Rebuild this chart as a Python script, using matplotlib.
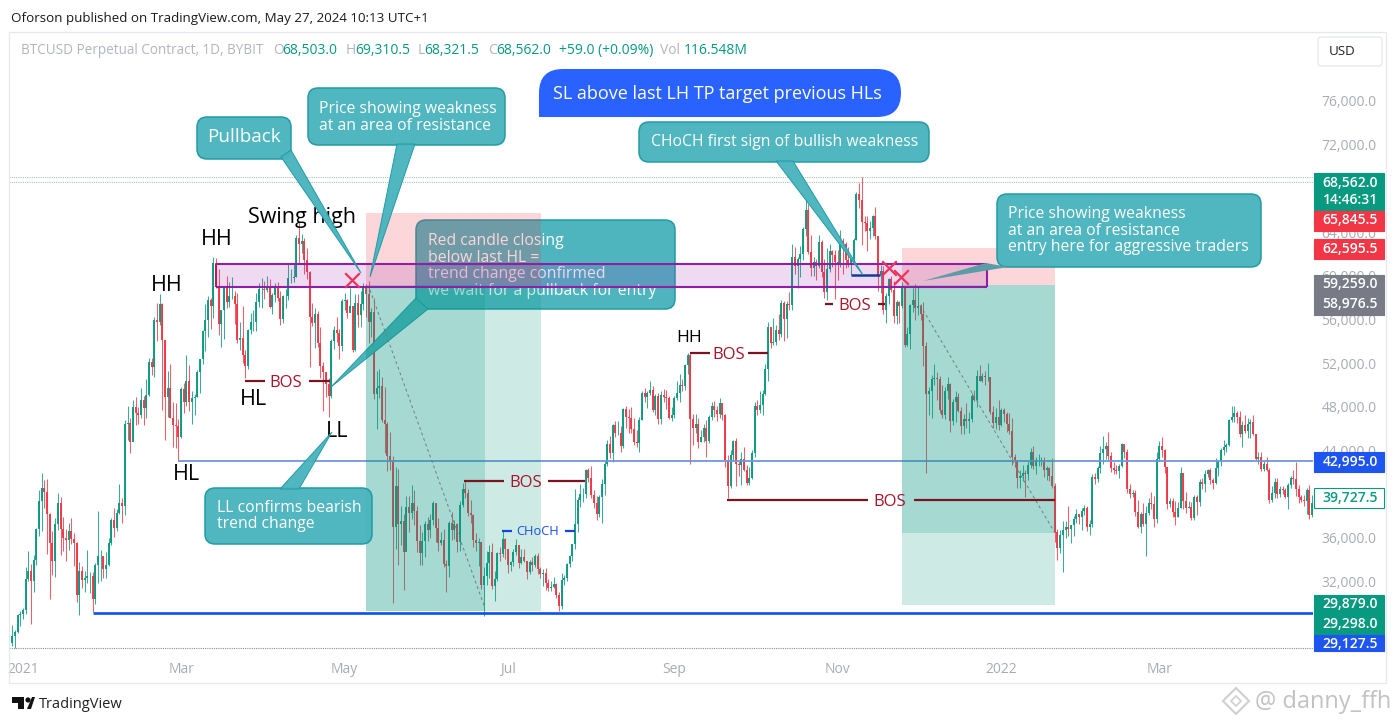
import datetime as dt
import numpy as np
import matplotlib
matplotlib.use("Agg")
import matplotlib.pyplot as plt
from matplotlib.patches import FancyBboxPatch, Polygon, Rectangle, Circle

plt.rcParams['font.family'] = ['Open Sans', 'DejaVu Sans']

# daily candles from 28 Dec 2020, prices in thousands of USD
closes = [27.0,27.4,28.9,29.0,
 29.4,32.2,33.0,32.0,34.0,36.8,39.4,40.6,40.2,38.2,35.5,33.9,37.3,39.2,36.8,36.0,35.8,36.6,35.9,35.5,30.8,33.0,32.1,32.3,32.5,32.5,30.4,33.5,34.3,34.3,33.1,
 33.5,35.5,37.6,36.9,38.3,39.2,38.9,46.4,46.5,44.8,48.0,47.4,47.2,48.6,47.9,49.1,52.1,51.6,55.9,55.8,57.4,54.1,48.9,49.7,47.0,46.3,46.2,45.2,
 49.6,48.4,50.4,48.4,48.8,48.9,51.2,52.4,54.9,55.9,57.8,57.2,61.2,59.0,55.6,56.9,58.9,57.6,58.1,58.1,57.4,54.1,54.3,52.7,51.7,55.0,55.8,55.8,57.6,58.8,58.8,
 58.7,58.9,57.1,58.2,59.1,58.0,56.0,58.1,58.1,59.8,59.8,59.9,63.5,62.9,63.2,61.4,60.3,56.2,55.7,56.5,53.8,51.7,51.2,50.1,49.0,54.0,55.0,54.8,53.6,57.7,
 57.8,56.6,57.2,53.2,57.5,56.4,57.4,58.9,58.3,55.8,56.7,49.2,49.7,49.9,46.8,46.4,43.5,42.9,37.0,40.7,37.3,37.5,34.7,38.8,38.3,39.2,38.5,35.7,34.6,35.7,37.3,
 36.7,37.6,39.2,36.9,35.5,35.8,33.6,33.4,37.4,36.7,37.3,35.6,39.0,40.5,40.1,38.3,38.1,35.8,35.5,35.6,31.7,32.5,33.7,34.7,31.6,32.2,34.6,34.5,35.9,35.0,
 33.5,33.8,34.7,35.3,33.7,34.2,33.9,32.9,33.8,33.5,34.3,33.1,32.7,32.8,31.9,31.4,31.5,31.8,30.8,29.8,32.1,32.3,33.6,34.3,35.4,37.3,39.5,40.0,40.0,42.2,41.5,
 39.9,39.2,38.2,39.7,40.9,42.8,44.6,43.8,46.3,45.6,45.6,44.4,47.8,47.1,47.0,46.0,44.8,44.7,46.8,49.3,48.9,49.3,49.5,47.7,49.0,46.9,49.1,48.9,48.8,47.0,47.2,
 48.8,49.3,50.0,49.9,51.8,52.7,46.9,46.1,46.4,44.8,45.2,46.1,44.9,47.1,48.1,47.7,47.3,48.3,47.2,43.0,40.7,43.6,44.9,42.8,42.7,43.2,42.2,41.0,41.5,43.8,
 48.1,47.7,48.2,49.2,51.5,55.3,53.8,53.9,55.0,54.7,57.5,56.0,57.4,57.3,61.7,60.9,61.5,62.0,64.3,66.0,62.2,60.7,61.3,60.9,63.1,60.3,58.5,60.6,62.3,61.9,61.3,
 61.0,63.2,62.9,61.4,61.0,61.5,63.3,67.5,66.9,64.9,64.8,64.1,64.4,65.5,63.6,60.1,60.4,56.9,58.1,59.7,58.7,56.3,57.6,57.2,58.9,53.7,54.7,57.3,57.8,57.0,
 57.2,56.5,53.6,49.2,49.4,50.5,50.6,50.5,47.7,47.2,49.4,50.1,46.7,48.4,48.9,47.6,46.2,46.9,46.7,46.9,49.0,48.6,50.8,50.4,50.8,50.7,50.7,47.5,46.5,47.1,46.3,
 47.7,47.3,46.4,45.8,43.4,43.1,41.5,41.7,41.9,41.8,42.7,43.9,42.6,43.1,43.1,43.1,42.2,42.4,41.7,40.7,36.5,35.1,36.3,36.7,37.0,36.8,37.2,37.7,38.2,37.9,38.5,
 38.7,37.0,37.3,41.6,41.4,42.4,43.8,44.1,44.4,43.5,42.4,42.2,42.1,42.6,44.6,43.9,40.5,40.0,40.1,38.4,37.0,38.2,37.3,38.3,39.2,39.1,37.7,43.2,
 44.4,44.0,42.5,39.1,39.4,38.4,37.9,38.7,41.9,39.4,38.7,38.8,37.8,39.7,39.3,41.1,40.9,41.8,42.2,41.3,41.0,42.4,43.0,44.0,44.3,44.5,46.8,47.1,47.4,47.1,45.5,
 46.3,45.8,46.4,46.6,45.5,43.2,43.4,42.3,42.8,42.2,39.5,40.1,41.1,40.0,40.5,40.4,39.7,40.8,41.5,41.4,40.5,39.7,39.5,39.4,40.4,38.1,39.2,39.7]
highs = [28.0,27.6,29.0,29.3,
 29.6,33.3,34.8,33.6,34.4,36.9,40.4,41.9,41.3,41.4,38.3,36.6,37.8,40.1,39.7,37.9,36.8,37.4,37.8,36.4,35.6,33.8,33.4,33.0,34.9,32.9,32.9,33.7,38.5,34.9,34.3,
 34.7,36.0,37.8,38.7,38.6,40.9,39.6,46.8,48.1,47.0,48.6,48.9,48.0,49.7,49.0,50.5,52.5,52.5,56.2,57.5,58.3,57.5,54.1,51.3,51.9,48.4,48.3,46.9,
 49.8,50.2,52.7,51.8,49.4,49.2,51.4,52.4,55.0,57.4,58.1,58.0,61.7,61.6,60.6,56.9,58.9,60.0,59.4,59.9,58.6,58.4,55.8,57.2,53.2,55.1,56.6,56.9,58.4,59.3,59.8,
 59.5,60.0,59.7,58.4,59.3,59.4,58.6,58.2,58.8,61.2,60.6,61.2,63.7,64.9,63.8,63.5,62.5,60.4,57.5,57.0,56.8,55.3,52.1,51.2,50.6,54.2,55.4,56.2,55.1,57.9,
 58.4,57.9,58.9,57.2,58.3,58.3,58.6,59.3,59.2,59.5,57.0,58.0,51.3,51.5,50.7,49.8,46.6,45.7,43.5,42.5,42.3,38.9,38.2,39.8,39.8,40.8,40.4,38.9,37.2,36.5,37.5,
 37.9,38.2,39.4,39.2,37.8,36.5,36.8,34.0,37.5,38.4,37.6,37.4,39.4,41.0,41.3,40.5,39.5,38.2,36.4,36.0,35.6,33.3,34.8,35.3,35.5,33.0,34.7,35.2,36.6,36.0,
 35.0,33.9,35.0,35.9,35.3,35.0,35.0,33.9,34.0,34.2,34.5,34.6,33.3,33.1,33.2,32.2,32.0,32.4,31.9,31.0,32.8,32.6,33.7,34.4,35.4,40.5,39.7,40.9,40.6,42.3,42.4,
 42.6,40.4,39.8,39.9,41.4,43.0,45.0,45.3,46.4,46.7,46.7,46.2,47.9,48.1,47.8,48.0,47.0,45.9,47.1,49.4,49.7,49.4,50.4,49.9,49.2,49.3,49.4,49.6,49.5,49.0,48.0,
 49.0,50.4,51.0,50.5,51.9,52.9,52.9,47.3,47.3,47.0,45.9,46.4,46.8,47.2,48.4,48.5,48.1,48.8,48.3,47.3,43.6,44.0,45.0,45.1,43.0,43.9,44.3,42.7,42.5,44.0,
 48.4,48.6,49.4,49.5,51.9,55.8,55.3,56.1,55.5,56.5,57.8,57.7,57.7,58.5,62.9,62.6,61.7,62.7,64.5,67.0,66.6,63.7,61.7,61.5,63.7,63.3,61.5,62.5,62.9,62.4,62.4,
 62.4,64.2,63.5,63.1,62.6,61.6,63.5,67.7,68.5,69.0,65.5,65.5,65.0,65.6,66.3,63.5,61.0,60.9,58.4,59.8,60.0,59.5,57.8,57.7,59.4,59.1,55.3,57.4,58.9,59.2,
 59.0,57.4,57.6,53.9,49.8,50.9,51.9,51.2,50.8,50.0,49.8,50.7,50.2,48.7,49.4,49.3,48.0,47.3,48.3,47.5,49.3,49.5,51.4,51.8,51.1,51.3,52.0,50.7,48.1,47.9,48.6,
 47.9,47.9,47.5,47.4,47.0,43.7,43.1,42.2,42.7,42.2,43.0,44.2,44.4,43.4,43.7,43.4,43.4,42.6,42.5,43.3,41.0,36.8,36.7,37.5,37.5,38.9,37.2,38.0,38.6,38.2,38.7,
 39.0,38.9,37.6,41.8,41.9,42.6,44.4,45.3,44.8,45.7,43.9,42.9,42.7,42.8,44.7,44.5,44.1,40.9,40.4,40.4,39.5,38.4,39.2,38.9,39.6,40.2,39.8,43.9,
 44.9,45.2,44.1,42.5,39.6,39.6,39.4,39.3,42.5,41.9,40.2,39.4,39.3,39.9,39.9,41.4,41.5,42.2,42.3,42.4,41.5,43.3,43.0,44.2,45.0,44.7,46.9,48.1,48.1,47.6,47.6,
 46.7,47.2,47.0,46.9,47.2,45.5,43.9,43.9,43.0,43.4,42.4,40.7,41.5,41.5,40.7,40.7,40.6,41.0,41.7,42.2,42.9,40.8,39.9,39.9,40.6,40.8,39.9,40.3]
lows = [26.1,25.9,27.3,27.9,
 28.6,29.0,32.0,28.1,31.0,33.5,36.2,36.6,38.7,34.5,30.4,32.6,32.4,36.7,34.4,34.8,33.9,34.9,35.4,33.4,30.1,28.9,31.4,31.0,31.9,30.9,29.2,29.9,31.9,32.0,32.3,
 32.3,33.4,35.3,36.1,36.6,38.2,37.4,38.1,45.0,43.8,44.9,46.3,46.4,47.0,46.3,47.0,49.0,50.9,50.7,54.0,55.5,47.7,45.0,47.1,47.0,44.3,44.2,43.0,
 45.1,47.4,48.1,47.6,46.4,47.2,48.9,49.3,51.9,53.1,54.4,55.1,56.1,58.9,54.6,53.5,54.2,57.0,57.1,57.9,55.6,53.8,53.2,52.0,50.6,51.5,54.7,54.9,54.9,57.1,57.0,
 57.9,58.5,57.0,56.5,57.6,57.7,55.5,55.7,57.0,57.8,59.3,59.4,59.9,61.2,62.1,60.2,59.7,51.6,55.4,53.4,53.5,50.6,47.6,48.9,47.1,48.8,53.3,53.9,52.4,53.1,
 56.9,56.1,56.9,53.0,53.1,55.3,55.3,56.9,56.2,53.8,54.4,48.7,46.0,48.8,46.6,43.8,42.1,42.2,30.0,35.0,33.5,35.3,31.2,34.8,36.5,37.7,37.2,34.7,33.5,33.5,34.2,
 35.7,36.0,37.2,35.6,34.8,35.3,33.3,31.0,32.4,35.8,35.9,34.7,34.8,38.8,39.6,38.0,37.4,35.2,34.8,33.4,31.3,28.8,31.7,32.3,31.3,30.2,32.0,33.9,34.2,34.1,
 32.8,33.0,33.4,34.4,33.2,33.6,33.8,32.2,32.7,33.0,33.3,32.7,32.3,31.6,31.2,31.1,31.1,31.4,30.5,29.3,29.5,31.7,32.0,33.3,33.9,35.0,36.5,38.8,39.3,39.6,41.1,
 39.6,38.7,37.6,37.9,37.4,39.9,42.6,43.3,42.9,45.2,45.4,43.9,44.2,46.1,45.6,45.6,44.5,44.3,43.9,46.8,48.4,47.9,49.1,47.5,47.2,46.4,46.4,48.4,47.8,46.9,46.7,
 47.0,48.6,48.4,49.4,49.5,51.0,42.8,44.5,45.6,44.2,44.8,44.8,43.4,44.7,46.8,47.1,46.7,47.0,46.8,42.5,39.6,40.6,43.1,40.7,41.7,40.8,42.1,40.8,40.8,41.4,
 43.4,47.2,47.4,47.2,49.1,50.4,53.4,53.7,53.7,54.1,54.4,54.0,54.3,56.9,56.9,60.2,58.9,59.9,61.4,63.6,62.0,60.0,60.0,59.6,60.7,59.9,58.0,57.8,60.3,60.8,57.9,
 59.6,60.8,60.2,60.7,60.8,60.1,61.3,63.3,66.2,62.8,64.1,62.3,63.4,63.6,63.4,58.6,58.4,56.5,55.7,57.4,58.5,55.7,55.6,55.7,57.0,53.5,53.6,53.3,56.7,55.9,
 56.4,55.9,51.7,41.9,47.2,47.0,50.0,48.6,47.4,47.0,46.9,48.7,45.7,46.3,46.6,47.5,45.5,45.5,46.1,45.6,46.6,48.5,48.0,50.4,50.3,50.0,50.4,47.3,46.1,46.0,45.9,
 46.2,46.6,45.7,45.5,42.7,42.5,40.6,40.6,41.2,39.7,41.3,42.4,42.3,41.8,42.6,42.6,41.6,41.3,41.2,40.6,35.6,34.0,34.6,32.9,36.0,36.2,35.5,36.2,37.4,37.3,36.7,
 38.1,36.6,36.3,37.0,40.9,41.1,41.9,42.8,43.2,43.1,42.0,41.8,41.8,41.5,42.5,43.3,40.1,39.6,39.7,38.0,36.9,36.4,37.1,34.3,38.1,38.6,37.0,37.4,
 43.0,43.4,41.9,38.6,38.8,37.9,37.2,37.9,38.7,38.6,38.3,38.7,37.6,37.6,38.1,38.9,40.5,40.2,41.6,40.9,40.5,40.9,41.7,42.6,43.6,43.9,44.4,46.6,46.6,46.5,45.2,
 44.3,45.6,45.1,45.1,45.4,43.1,42.8,42.1,42.1,42.1,39.2,39.3,39.6,39.6,39.7,40.0,39.6,38.6,40.6,40.9,39.8,39.2,39.3,38.9,38.2,37.7,37.9,39.0]
first_open = 26.4

# 40,000 and 68,000 sit fully behind the price tags in the picture
y_ticks = [32, 36, 44, 48, 52, 56, 60, 64, 72, 76]
x_tick_dates = [dt.date(2021,1,1), dt.date(2021,3,1), dt.date(2021,5,1), dt.date(2021,7,1),
                dt.date(2021,9,1), dt.date(2021,11,1), dt.date(2022,1,1), dt.date(2022,3,1)]
x_tick_labels = ['2021', 'Mar', 'May', 'Jul', 'Sep', 'Nov', '2022', 'Mar']

# price levels
main_low = 29.1275
level_hl = 42.995
session_high = 69.0
last_close = 68.562
range_low = 25.9

UP = '#089981'
DOWN = '#f23645'
GREY = '#b2b5be'
AXIS_GREY = '#a8abb3'
TEAL_BOX = '#4ab4be'
TEAL_EDGE = '#1f9aa4'
DARK_RED = '#7a1420'
BOS_RED = '#a8142a'

n = min(len(closes), len(highs), len(lows))
c = np.array(closes[:n])
h = np.array(highs[:n])
l = np.array(lows[:n])
o = np.r_[first_open, c[:-1]]
days = np.arange(n) - 4   # 0 is 1 Jan 2021

PX_PER_DAY = 2.68
X0 = 23
PX_PER_K = 10.92
def day_of_px(px):
    return (px - X0) / PX_PER_DAY
def price_of_px(py):
    return 76 - (py - 101) / PX_PER_K

fig = plt.figure(figsize=(14, 7.25), dpi=100, facecolor='white')
ax = fig.add_axes([9/1400, (725-652)/725, 1304/1400, 620/725], zorder=1)
ax.set_xlim(day_of_px(9), day_of_px(1313))
ax.set_ylim(price_of_px(652), price_of_px(32))

up = c >= o
for mask, col in ((up, UP), (~up, DOWN)):
    ax.vlines(days[mask], l[mask], h[mask], color=col, lw=0.75, alpha=0.8)
    ax.vlines(days[mask], np.minimum(o, c)[mask], np.maximum(o, c)[mask], color=col, lw=1.35)

ax.hlines([session_high, last_close], day_of_px(9), day_of_px(1313), color='#b4bcbc', lw=0.8, linestyles=(0, (1, 1)))
ax.hlines(range_low, day_of_px(9), day_of_px(1313), color='#8a8e96', lw=0.8, linestyles=(0, (1, 1)))
ax.hlines(level_hl, day_of_px(178), day_of_px(1313), color='#7096dc', lw=1.3)
ax.hlines(main_low, day_of_px(93), day_of_px(1313), color='#0b50f0', lw=1.9)

ax.yaxis.tick_right()
ax.set_yticks(y_ticks)
ax.set_yticklabels([f'{t},000.0' for t in y_ticks], color=AXIS_GREY, fontsize=10)
ax.set_xticks([(d - dt.date(2021,1,1)).days for d in x_tick_dates])
ax.set_xticklabels(x_tick_labels, color=AXIS_GREY, fontsize=10)
ax.tick_params(axis='both', length=0)
ax.tick_params(axis='y', pad=6)
ax.tick_params(axis='x', pad=7)
for s in ax.spines.values():
    s.set_visible(False)

# everything drawn on top of the chart lives in picture pixels
ov = fig.add_axes([0, 0, 1, 1], zorder=2, facecolor='none')
ov.set_xlim(0, 1400)
ov.set_ylim(725, 0)
ov.axis('off')

def rect(x0, y0, x1, y1, col, alpha=1.0, z=2, ec='none', lw=0):
    ov.add_patch(Rectangle((x0, y0), x1-x0, y1-y0, fc=col, alpha=alpha, zorder=z, ec=ec, lw=lw))

def line(xs, ys, col, lw=1.5, z=3, **kw):
    ov.plot(xs, ys, color=col, lw=lw, zorder=z, solid_capstyle='butt', **kw)

def callout(x0, y0, x1, y1, tail, lines, tx, ty, size=11.3, alpha=0.97, z=4, r=10, step=16.5):
    ov.add_patch(FancyBboxPatch((x0, y0), x1-x0, y1-y0, boxstyle=f'round,pad=0,rounding_size={r}',
                                fc=TEAL_BOX, ec=TEAL_EDGE, lw=1.1, alpha=alpha, zorder=z))
    if tail:
        ov.add_patch(Polygon(tail, closed=True, fc=TEAL_BOX, ec=TEAL_EDGE, lw=0.7, alpha=alpha, zorder=z))
    for i, s in enumerate(lines):
        ov.text(tx, ty + 1 + i*step, s, color='white', fontsize=size, va='center', ha='left', zorder=z+0.1)

def label(txt, x, y, col='black', size=15.5, ha='center', z=6):
    ov.text(x, y + 1.5, txt, color=col, fontsize=size, ha=ha, va='center', zorder=z)

# frame
for xs, ys in (([9, 1386], [32, 32]), ([9, 1386], [683, 683]), ([9, 9], [32, 683]), ([1386, 1386], [32, 683])):
    line(xs, ys, '#e6e8ee', lw=0.9, z=1)

# header and legend row
ov.text(11, 18, 'Oforson published on TradingView.com, May 27, 2024 10:13 UTC+1', fontsize=9.6, color='#1a1a1a', va='center')
ov.text(21, 50, 'BTCUSD Perpetual Contract, 1D, BYBIT', fontsize=9.75, color=GREY, va='center')
for x, s, col in ((273, 'O', GREY), (282, '68,503.0', UP), (346, 'H', GREY), (355, '69,310.5', UP),
                  (418, 'L', GREY), (424, '68,321.5', UP), (488, 'C', GREY), (496, '68,562.0', UP),
                  (559, '+59.0 (+0.09%)', UP), (660, 'Vol', GREY), (684, '116.548M', UP)):
    ov.text(x, 50, s, fontsize=10, color=col, va='center')
ov.add_patch(FancyBboxPatch((1318, 37), 64, 29, boxstyle='round,pad=0,rounding_size=3', fc='white', ec='#e6e8ee', lw=0.9, zorder=6))
ov.text(1329, 51, 'USD', fontsize=9.6, color='#222222', va='center', zorder=7)

# this callout sits under the trade zones
callout(416, 220, 675, 309, [(416, 298), (331, 387), (428, 309)],
        ['Red candle closing', 'below last HL =', 'trend change confirmed', 'we wait for a pullback for entry'],
        428, 240, alpha=0.98, z=1.5)

# trade zones
rect(366, 213, 541, 285, DOWN, 0.2)
rect(366, 285, 541, 611, UP, 0.2)
rect(366, 285, 485, 611, UP, 0.2)
rect(902, 248, 1055, 285, DOWN, 0.2)
rect(902, 285, 1055, 605, UP, 0.2)
rect(902, 285, 1055, 533, UP, 0.2)
line([370, 485], [290, 608], '#6f7f80', lw=0.7, linestyle=(0, (3, 3)))
line([920, 1055], [305, 533], '#6f7f80', lw=0.7, linestyle=(0, (3, 3)))

# resistance band
rect(216, 264, 987, 287, '#9c27b0', 0.17)
line([216, 987], [264, 264], '#8e1fa6', lw=1.5)
line([216, 987], [287, 287], '#8e1fa6', lw=1.5)
line([216, 216], [264, 287], '#c2185b', lw=1.5)
line([987, 987], [264, 287], '#8e1fa6', lw=1.5)

# structure lines and labels
for (x0, x1, y) in ((245, 265, 381), (309, 330, 381), (464, 504, 481), (548, 585, 481),
                    (690, 710, 353), (748, 768, 353), (825, 833, 304), (878, 885, 304),
                    (727, 868, 500), (914, 1055, 500)):
    line([x0, x1], [y, y], DARK_RED, lw=1.6)
for txt, x, y in (('BOS', 286, 381), ('BOS', 526, 481), ('BOS', 729, 353), ('BOS', 855, 304), ('BOS', 890, 500)):
    label(txt, x, y, BOS_RED, 12)
for (x0, x1) in ((502, 512), (565, 575)):
    line([x0, x1], [531, 531], '#1246d8', lw=1.6)
label('CHoCH', 538, 530, '#1a50d8', 9.3)
line([851, 880], [275, 275], '#123c9c', lw=1.8)

for txt, x, y, s in (('Swing high', 302, 216, 15.5), ('HH', 217, 238, 15.5), ('HH', 167, 284, 15.5),
                     ('HL', 253, 398, 15.5), ('LL', 337, 430, 15.5), ('HL', 186, 473, 15.5), ('HH', 689, 336, 12.5)):
    label(txt, x, y, 'black', s, z=3.5)

ov.scatter([352, 889, 901], [280, 268, 277], marker='x', s=110, color='#f0325a', linewidths=1.6, zorder=6)

# callouts on top
callout(197, 117, 291, 159, [(281, 157), (291, 150), (361, 273)], ['Pullback'], 207, 136, size=13.6)
callout(308, 88, 505, 145, [(397, 144), (415, 144), (370, 277)],
        ['Price showing weakness', 'at an area of resistance'], 319, 108)
callout(205, 488, 372, 544, [(280, 489), (299, 489), (332, 432)],
        ['LL confirms bearish', 'trend change'], 217, 507)
callout(639, 122, 929, 162, [(776, 161), (793, 161), (863, 275)],
        ['CHoCH first sign of bullish weakness'], 651, 141)
callout(997, 194, 1261, 267, None,
        ['Price showing weakness', 'at an area of resistance', 'entry here for aggressive traders'], 1008, 213)
ov.add_patch(Polygon([(986, 263), (1008, 267), (923, 281)], closed=True, fc='#5b9ca6', ec='none', zorder=4))

# blue headline
ov.add_patch(FancyBboxPatch((539, 69), 362, 48, boxstyle='round,pad=0,rounding_size=24', fc='#2962ff', ec='none', zorder=5))
rect(539, 95, 565, 117, '#2962ff', z=5)
ov.text(553, 94, 'SL above last LH TP target previous HLs', color='white', fontsize=13, va='center', zorder=6)

# price axis tags
def tag(y0, y1, col, texts, ec=None, tcol='white'):
    rect(1314, y0, 1384, y1, col, z=7, ec=ec or col, lw=0.8)
    for t, y in texts:
        ov.text(1378, y, t, color=tcol, fontsize=10, ha='right', va='center', zorder=8, fontweight='semibold')

tag(173, 211, '#089981', [('68,562.0', 183), ('14:46:31', 200)])
tag(211, 231, '#f23645', [('65,845.5', 220)])
tag(239, 259, '#f23645', [('62,595.5', 249)])
tag(275, 315, '#787b86', [('59,259.0', 284), ('58,976.5', 304)])
tag(452, 472, '#1e55f0', [('42,995.0', 462)])
tag(488, 508, 'white', [('39,727.5', 498)], ec='#089981', tcol='#089981')
tag(595, 635, '#089981', [('29,879.0', 604), ('29,298.0', 624)])
tag(635, 651, '#1e55f0', [('29,127.5', 644)])

# footer
ov.add_patch(Polygon([(12, 697), (24, 697), (24, 709), (18, 709), (18, 703), (12, 703)], closed=True, fc='#111111', ec='none'))
ov.add_patch(Circle((28, 700), 2.6, fc='#111111', ec='none'))
ov.add_patch(Polygon([(27, 709), (32, 697), (35, 697), (31, 709)], closed=True, fc='#111111', ec='none'))
ov.text(39, 705, 'TradingView', fontsize=10.5, color='#222222', va='center')
ov.add_patch(Polygon([(1236, 688), (1249, 701), (1236, 714), (1223, 701)], closed=True, fc='none', ec='#d0d0d0', lw=1.5))
ov.add_patch(Polygon([(1236, 696), (1241, 701), (1236, 706), (1231, 701)], closed=True, fc='none', ec='#d0d0d0', lw=1.2))
ov.text(1255, 702, '@ danny_ffh', fontsize=17, color='#c2c2c2', va='center')

fig.savefig('out.png', dpi=100)
